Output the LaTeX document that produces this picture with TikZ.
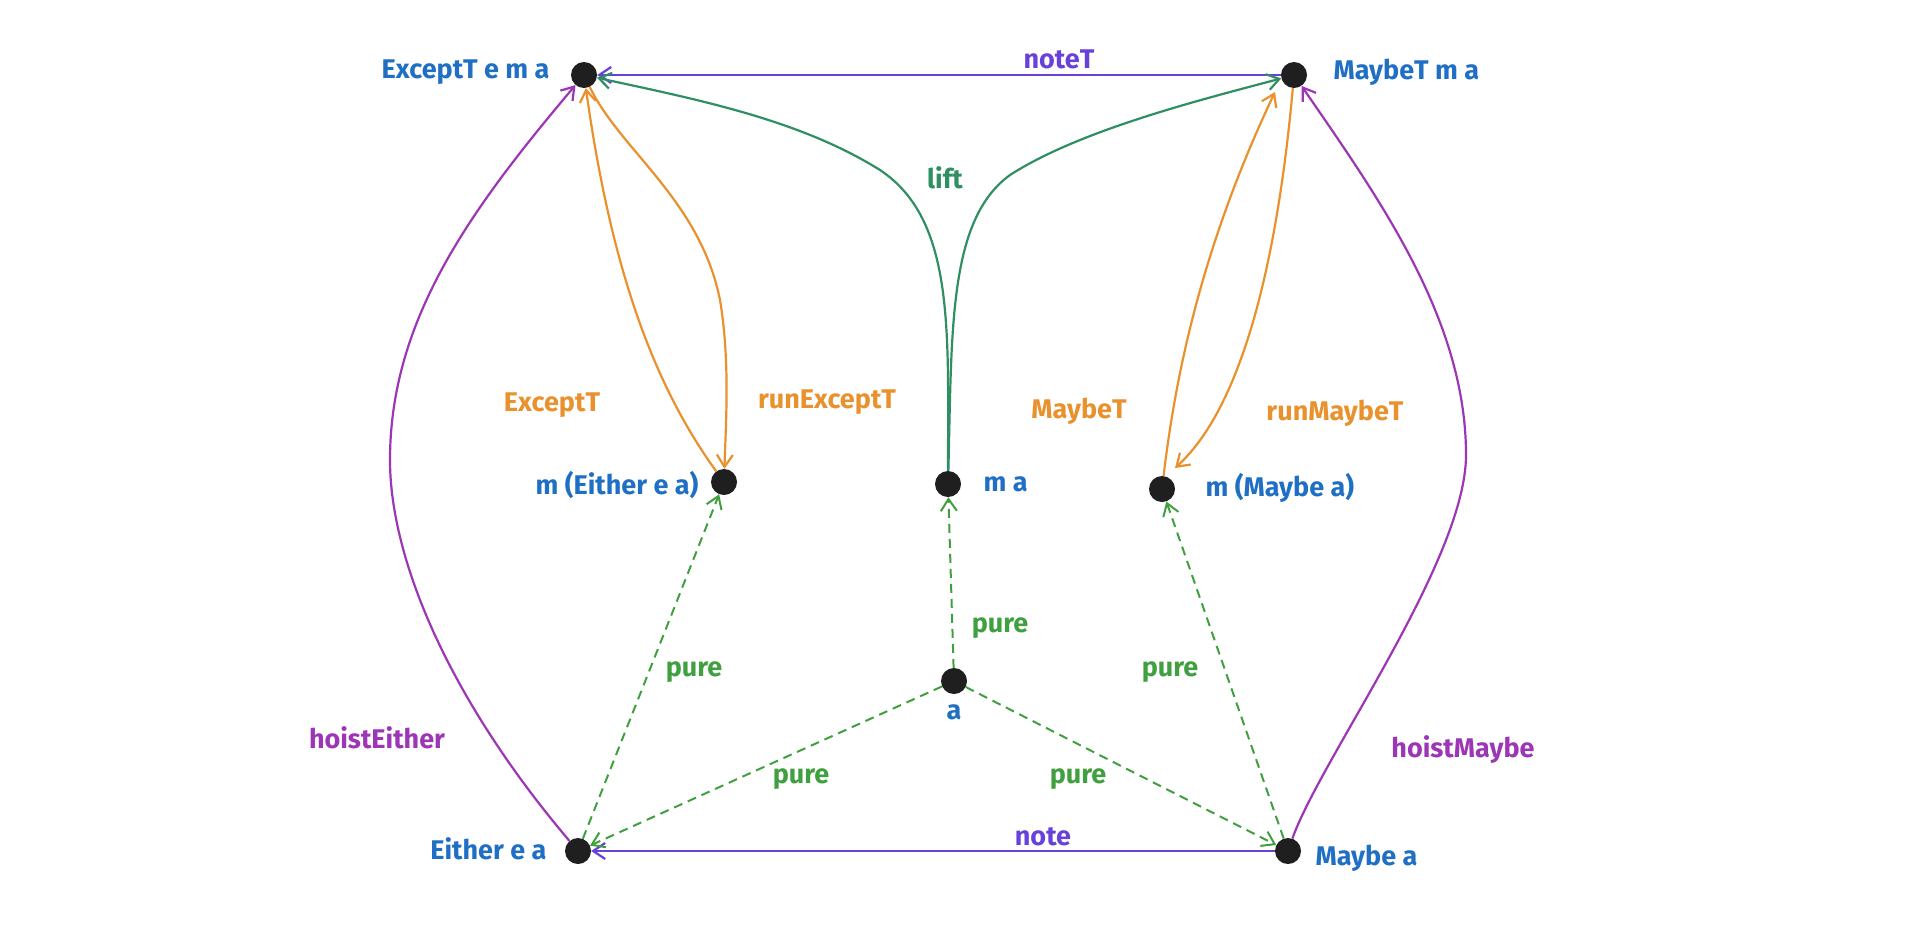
\documentclass[tikz,border=0pt]{standalone}
\usepackage{fontspec}
\setmainfont{Fira Sans}
\usetikzlibrary{arrows.meta}
\definecolor{cblue}{HTML}{1F6FC4}
\definecolor{cpurp}{HTML}{6741D9}
\definecolor{cviol}{HTML}{9C36B5}
\definecolor{corng}{HTML}{E8912D}
\definecolor{cteal}{HTML}{2F8F62}
\definecolor{cgrn}{HTML}{40A040}
\begin{document}
\begin{tikzpicture}[x=1pt,y=-1pt,
  dot/.style={circle,fill=black!88,inner sep=0,minimum size=26},
  lab/.style={font=\fontsize{27}{30}\selectfont\bfseries},
  nl/.style={lab,text=cblue},
  arr/.style={line width=2.2pt,-{Straight Barb[length=12pt,width=16pt]}},
  pure/.style={arr,cgrn,dashed,dash pattern=on 9pt off 6pt,line width=2pt}]
\useasboundingbox (0,0) rectangle (1908,930);
\node[dot] (ET) at (584,75) {};
\node[dot] (MT) at (1294,75) {};
\node[dot] (mE) at (724,482) {};
\node[dot] (ma) at (948,484) {};
\node[dot] (mM) at (1162,489) {};
\node[dot] (a)  at (954,681) {};
\node[dot] (E)  at (578,851) {};
\node[dot] (M)  at (1288,851) {};
\node[nl,anchor=east] at (553,72) {ExceptT e m a};
\node[nl,anchor=west] at (1330,72) {MaybeT m a};
\node[nl,anchor=east] at (702,485) {m (Either e a)};
\node[nl,anchor=west] at (980,484) {m a};
\node[nl,anchor=west] at (1202,488) {m (Maybe a)};
\node[nl] at (954,712) {a};
\node[nl,anchor=east] at (550,849) {Either e a};
\node[nl,anchor=west] at (1312,858) {Maybe a};
% straight purple
\draw[arr,cpurp] (MT) -- (ET) node[midway,above=2pt,lab,text=cpurp,xshift=120pt] {noteT};
\draw[arr,cpurp] (M) -- (E) node[midway,above=1pt,lab,text=cpurp,xshift=110pt] {note};
% hoist
\draw[arr,cviol] (E) .. controls (450,700) and (390,560) .. (390,460) .. controls (390,320) and (470,210) .. (ET);
\node[lab,text=cviol] at (377,738) {hoistEither};
\draw[arr,cviol] (M) .. controls (1320,760) and (1466,560) .. (1466,455) .. controls (1466,320) and (1380,200) .. (MT);
\node[lab,text=cviol] at (1463,750) {hoistMaybe};
% orange
\draw[arr,corng] (mE) .. controls (650,380) and (610,260) .. (ET);
\draw[arr,corng] (ET) .. controls (620,150) and (700,200) .. (720,300) .. controls (730,360) and (726,420) .. (mE);
\node[lab,text=corng] at (552,405) {ExceptT};
\node[lab,text=corng] at (827,402) {runExceptT};
\draw[arr,corng] (mM) .. controls (1175,380) and (1200,250) .. (1275,92);
\draw[arr,corng] (MT) .. controls (1280,230) and (1250,400) .. (1175,468);
\node[lab,text=corng] at (1079,411) {MaybeT};
\node[lab,text=corng] at (1335,413) {runMaybeT};
% lift
\draw[arr,cteal] (ma) .. controls (948,330) and (955,220) .. (880,170) .. controls (800,120) and (700,100) .. (ET);
\draw[arr,cteal] (ma) .. controls (952,330) and (948,220) .. (1010,175) .. controls (1080,130) and (1200,100) .. (MT);
\node[lab,text=cteal] at (945,178) {lift};
% pure
\node[lab,text=cgrn] at (1000,628) {pure};
\node[lab,text=cgrn] at (694,672) {pure};
\node[lab,text=cgrn] at (1170,672) {pure};
\node[lab,text=cgrn] at (801,779) {pure};
\node[lab,text=cgrn] at (1078,779) {pure};
\draw[pure] (a) -- (ma);
\draw[pure] (E) -- (mE);
\draw[pure] (M) -- (mM);
\draw[pure] (a) -- (E);
\draw[pure] (a) -- (M);
\end{tikzpicture}
\end{document}
